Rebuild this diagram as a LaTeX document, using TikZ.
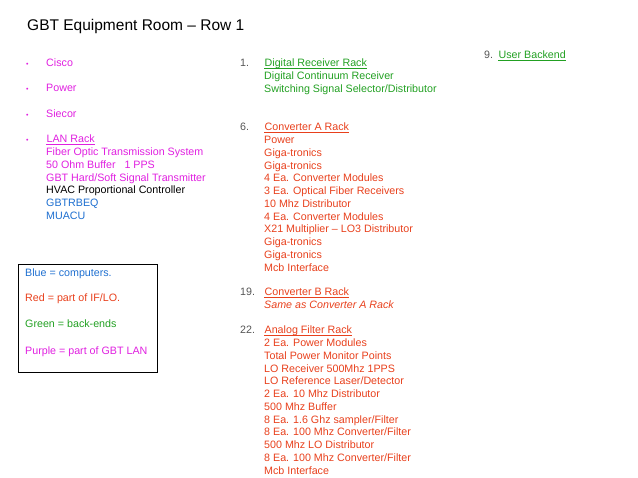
\documentclass[tikz,border=0pt]{standalone}
\usepackage{fontspec}
\setmainfont{Liberation Sans}
\definecolor{mag}{HTML}{E020E0}
\definecolor{grn}{HTML}{22A022}
\definecolor{org}{HTML}{E8401C}
\definecolor{blu}{HTML}{1E6FD0}
\definecolor{gry}{HTML}{555555}
\newcommand{\ul}[1]{\tikz[baseline=(u.base)]{\node[inner sep=0pt](u){#1};\draw[line width=0.5pt] ([yshift=-1.3pt]u.base west)--([yshift=-1.3pt]u.base east);}}
\begin{document}
\begin{tikzpicture}[x=1pt,y=-1pt,
  t/.style={anchor=base west,inner sep=0pt,font=\fontsize{10.7}{12}\selectfont},
  num/.style={t,text=gry}]
\useasboundingbox (0,0) rectangle (638,478);
\node[t,font=\fontsize{15.5}{18}\selectfont] (title) at (27,31) {GBT Equipment Room – Row 1};
% left column
\foreach \y/\s [count=\i] in {67/Cisco,92/Power,118/Siecor}{
  \node[t,text=mag,font=\fontsize{7}{8}\selectfont] (b\i) at (26,\y) {•};
  \node[t,text=mag] (l\i) at (46,\y) {\s};}
\node[t,text=mag,font=\fontsize{7}{8}\selectfont] (b4) at (26,143) {•};
\node[t,text=mag] (lan) at (46,143) {\ul{LAN Rack}};
\node[t,text=mag] (lan1) at (46,156) {Fiber Optic Transmission System};
\node[t,text=mag] (lan2) at (46,169) {50 Ohm Buffer\ \ \ 1 PPS};
\node[t,text=mag] (lan3) at (46,181.5) {GBT Hard/Soft Signal Transmitter};
\node[t] (lan4) at (46,194) {HVAC Proportional Controller};
\node[t,text=blu] (lan5) at (46,207) {GBTRBEQ};
\node[t,text=blu] (lan6) at (46,220) {MUACU};
% legend
\draw[black,line width=0.6pt] (18,264) rectangle (157,372);
\node[t,text=blu] (g1) at (25,277) {Blue = computers.};
\node[t,text=org] (g2) at (25,302) {Red = part of IF/LO.};
\node[t,text=grn] (g3) at (25,328) {Green = back-ends};
\node[t,text=mag] (g4) at (25,355) {Purple = part of GBT LAN};
% middle
\node[num] (n1) at (240,67) {1.};
\node[t,text=grn] (d0) at (264,67) {\ul{Digital Receiver Rack}};
\node[t,text=grn] (d1) at (264,80) {Digital Continuum Receiver};
\node[t,text=grn] (d2) at (264,93) {Switching Signal Selector/Distributor};
\node[num] (n9) at (484,59) {9.};
\node[t,text=grn] (u) at (498,59) {\ul{User Backend}};
\node[num] (n6) at (240,131) {6.};
\node[t,text=org] (c0) at (264,131) {\ul{Converter A Rack}};
\foreach \s [count=\i] in {Power,Giga-tronics,Giga-tronics,4 Ea. Converter Modules,3 Ea. Optical Fiber Receivers,10 Mhz Distributor,4 Ea. Converter Modules,X21 Multiplier – LO3 Distributor,Giga-tronics,Giga-tronics,Mcb Interface}
  \node[t,text=org] (c\i) at (264,{131+12.75*\i}) {\s};
\node[num] (n19) at (240,296) {19.};
\node[t,text=org] (cb0) at (264,296) {\ul{Converter B Rack}};
\node[t,text=org] (cb1) at (264,309) {\itshape Same as Converter A Rack};
\node[num] (n22) at (240,334) {22.};
\node[t,text=org] (a0) at (264,334) {\ul{Analog Filter Rack}};
\foreach \s [count=\i] in {2 Ea. Power Modules,Total Power Monitor Points,LO Receiver 500Mhz 1PPS,LO Reference Laser/Detector,2 Ea. 10 Mhz Distributor,500 Mhz Buffer,8 Ea. 1.6 Ghz sampler/Filter,8 Ea. 100 Mhz Converter/Filter,500 Mhz LO Distributor,8 Ea. 100 Mhz Converter/Filter,Mcb Interface}
  \node[t,text=org] (a\i) at (264,{334+12.75*\i}) {\s};
\end{tikzpicture}
\end{document}
